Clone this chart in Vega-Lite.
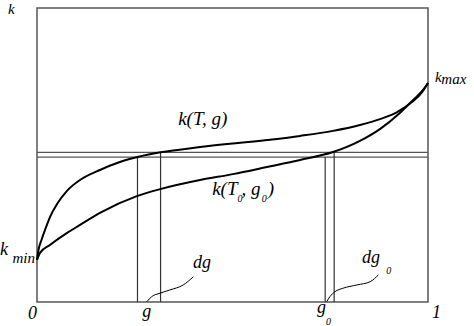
{
  "$schema": "https://vega.github.io/schema/vega-lite/v6.json",
  "width": 391,
  "height": 294,
  "autosize": {"type": "none"},
  "padding": {"left": 37, "top": 8, "right": 46, "bottom": 24},
  "background": "white",
  "config": {"view": {"stroke": "#555", "strokeWidth": 1.5}},
  "datasets": {
    "curves": [
      {"g": 0, "k": 0.143, "curve": "k(T, g)"},
      {"g": 0.0038, "k": 0.177, "curve": "k(T, g)"},
      {"g": 0.0115, "k": 0.211, "curve": "k(T, g)"},
      {"g": 0.0205, "k": 0.245, "curve": "k(T, g)"},
      {"g": 0.0332, "k": 0.289, "curve": "k(T, g)"},
      {"g": 0.0512, "k": 0.333, "curve": "k(T, g)"},
      {"g": 0.0767, "k": 0.378, "curve": "k(T, g)"},
      {"g": 0.110, "k": 0.415, "curve": "k(T, g)"},
      {"g": 0.161, "k": 0.449, "curve": "k(T, g)"},
      {"g": 0.212, "k": 0.476, "curve": "k(T, g)"},
      {"g": 0.257, "k": 0.493, "curve": "k(T, g)"},
      {"g": 0.316, "k": 0.509, "curve": "k(T, g)"},
      {"g": 0.417, "k": 0.527, "curve": "k(T, g)"},
      {"g": 0.588, "k": 0.551, "curve": "k(T, g)"},
      {"g": 0.673, "k": 0.565, "curve": "k(T, g)"},
      {"g": 0.757, "k": 0.582, "curve": "k(T, g)"},
      {"g": 0.826, "k": 0.602, "curve": "k(T, g)"},
      {"g": 0.877, "k": 0.622, "curve": "k(T, g)"},
      {"g": 0.921, "k": 0.646, "curve": "k(T, g)"},
      {"g": 0.959, "k": 0.680, "curve": "k(T, g)"},
      {"g": 0.985, "k": 0.714, "curve": "k(T, g)"},
      {"g": 1, "k": 0.745, "curve": "k(T, g)"},
      {"g": 0, "k": 0.143, "curve": "k(T0, g0)"},
      {"g": 0.0077, "k": 0.167, "curve": "k(T0, g0)"},
      {"g": 0.033, "k": 0.194, "curve": "k(T0, g0)"},
      {"g": 0.077, "k": 0.235, "curve": "k(T0, g0)"},
      {"g": 0.110, "k": 0.262, "curve": "k(T0, g0)"},
      {"g": 0.161, "k": 0.303, "curve": "k(T0, g0)"},
      {"g": 0.257, "k": 0.361, "curve": "k(T0, g0)"},
      {"g": 0.315, "k": 0.384, "curve": "k(T0, g0)"},
      {"g": 0.417, "k": 0.415, "curve": "k(T0, g0)"},
      {"g": 0.501, "k": 0.435, "curve": "k(T0, g0)"},
      {"g": 0.588, "k": 0.459, "curve": "k(T0, g0)"},
      {"g": 0.673, "k": 0.483, "curve": "k(T0, g0)"},
      {"g": 0.757, "k": 0.510, "curve": "k(T0, g0)"},
      {"g": 0.826, "k": 0.548, "curve": "k(T0, g0)"},
      {"g": 0.877, "k": 0.588, "curve": "k(T0, g0)"},
      {"g": 0.928, "k": 0.643, "curve": "k(T0, g0)"},
      {"g": 0.962, "k": 0.687, "curve": "k(T0, g0)"},
      {"g": 0.985, "k": 0.718, "curve": "k(T0, g0)"},
      {"g": 1, "k": 0.745, "curve": "k(T0, g0)"}
    ],
    "leaders": [
      {"g": 0.400, "k": 0.086, "lead": "dg"},
      {"g": 0.374, "k": 0.058, "lead": "dg"},
      {"g": 0.340, "k": 0.041, "lead": "dg"},
      {"g": 0.315, "k": 0.030, "lead": "dg"},
      {"g": 0.293, "k": 0.018, "lead": "dg"},
      {"g": 0.281, "k": 0.001, "lead": "dg"},
      {"g": 0.873, "k": 0.092, "lead": "dg0"},
      {"g": 0.852, "k": 0.069, "lead": "dg0"},
      {"g": 0.818, "k": 0.058, "lead": "dg0"},
      {"g": 0.783, "k": 0.047, "lead": "dg0"},
      {"g": 0.762, "k": 0.035, "lead": "dg0"},
      {"g": 0.749, "k": 0.018, "lead": "dg0"},
      {"g": 0.741, "k": 0.001, "lead": "dg0"}
    ],
    "hlines": [
      {"k": 0.509},
      {"k": 0.493}
    ],
    "vlines": [
      {"g": 0.257, "k": 0.493},
      {"g": 0.316, "k": 0.509},
      {"g": 0.737, "k": 0.493},
      {"g": 0.760, "k": 0.509}
    ],
    "curveText": [
      {"g": 0.361, "k": 0.602, "text": "k(T, g)"},
      {"g": 0.448, "k": 0.364, "text": "k(T"},
      {"g": 0.523, "k": 0.364, "text": ", g"},
      {"g": 0.590, "k": 0.364, "text": ")"}
    ],
    "bigText": [
      {"g": -0.0946, "k": 0.160, "text": "k"},
      {"g": -0.023, "k": -0.058, "text": "0"},
      {"g": 1.010, "k": -0.054, "text": "1"},
      {"g": 0.269, "k": -0.051, "text": "g"},
      {"g": 0.716, "k": -0.037, "text": "g"},
      {"g": 0.399, "k": 0.116, "text": "dg"},
      {"g": 0.831, "k": 0.133, "text": "dg"}
    ],
    "midText": [
      {"g": -0.074, "k": 0.980, "text": "k"},
      {"g": -0.0627, "k": 0.133, "text": "min"},
      {"g": 1.018, "k": 0.748, "text": "k"},
      {"g": 1.034, "k": 0.740, "text": "max"}
    ],
    "subText": [
      {"g": 0.513, "k": 0.340, "text": "0"},
      {"g": 0.575, "k": 0.340, "text": "0"},
      {"g": 0.739, "k": -0.078, "text": "0"},
      {"g": 0.893, "k": 0.095, "text": "0"}
    ]
  },
  "encoding": {
    "x": {"field": "g", "type": "quantitative", "scale": {"domain": [0, 1], "nice": false, "zero": false}, "axis": null},
    "y": {"field": "k", "type": "quantitative", "scale": {"domain": [0, 1], "nice": false, "zero": false}, "axis": null}
  },
  "layer": [
    {
      "data": {"name": "hlines"},
      "mark": {"type": "rule", "color": "#555", "strokeWidth": 1.2},
      "encoding": {"x": null}
    },
    {
      "data": {"name": "vlines"},
      "mark": {"type": "rule", "color": "#333", "strokeWidth": 1.2},
      "encoding": {"y": {"datum": 0, "type": "quantitative"}, "y2": {"field": "k"}}
    },
    {
      "data": {"name": "curves"},
      "mark": {"type": "line", "color": "black", "strokeWidth": 2, "interpolate": "monotone"},
      "encoding": {"detail": {"field": "curve"}}
    },
    {
      "data": {"name": "leaders"},
      "mark": {"type": "line", "color": "black", "strokeWidth": 1, "interpolate": "monotone"},
      "encoding": {"detail": {"field": "lead"}}
    },
    {
      "data": {"name": "curveText"},
      "mark": {"type": "text", "font": "Liberation Serif", "fontStyle": "italic", "fontSize": 19, "align": "left", "baseline": "alphabetic", "color": "black"},
      "encoding": {"text": {"field": "text"}}
    },
    {
      "data": {"name": "bigText"},
      "mark": {"type": "text", "font": "Liberation Serif", "fontStyle": "italic", "fontSize": 18, "align": "left", "baseline": "alphabetic", "color": "black"},
      "encoding": {"text": {"field": "text"}}
    },
    {
      "data": {"name": "midText"},
      "mark": {"type": "text", "font": "Liberation Serif", "fontStyle": "italic", "fontSize": 15, "align": "left", "baseline": "alphabetic", "color": "black"},
      "encoding": {"text": {"field": "text"}}
    },
    {
      "data": {"name": "subText"},
      "mark": {"type": "text", "font": "Liberation Serif", "fontStyle": "italic", "fontSize": 10, "align": "left", "baseline": "alphabetic", "color": "black"},
      "encoding": {"text": {"field": "text"}}
    }
  ]
}
